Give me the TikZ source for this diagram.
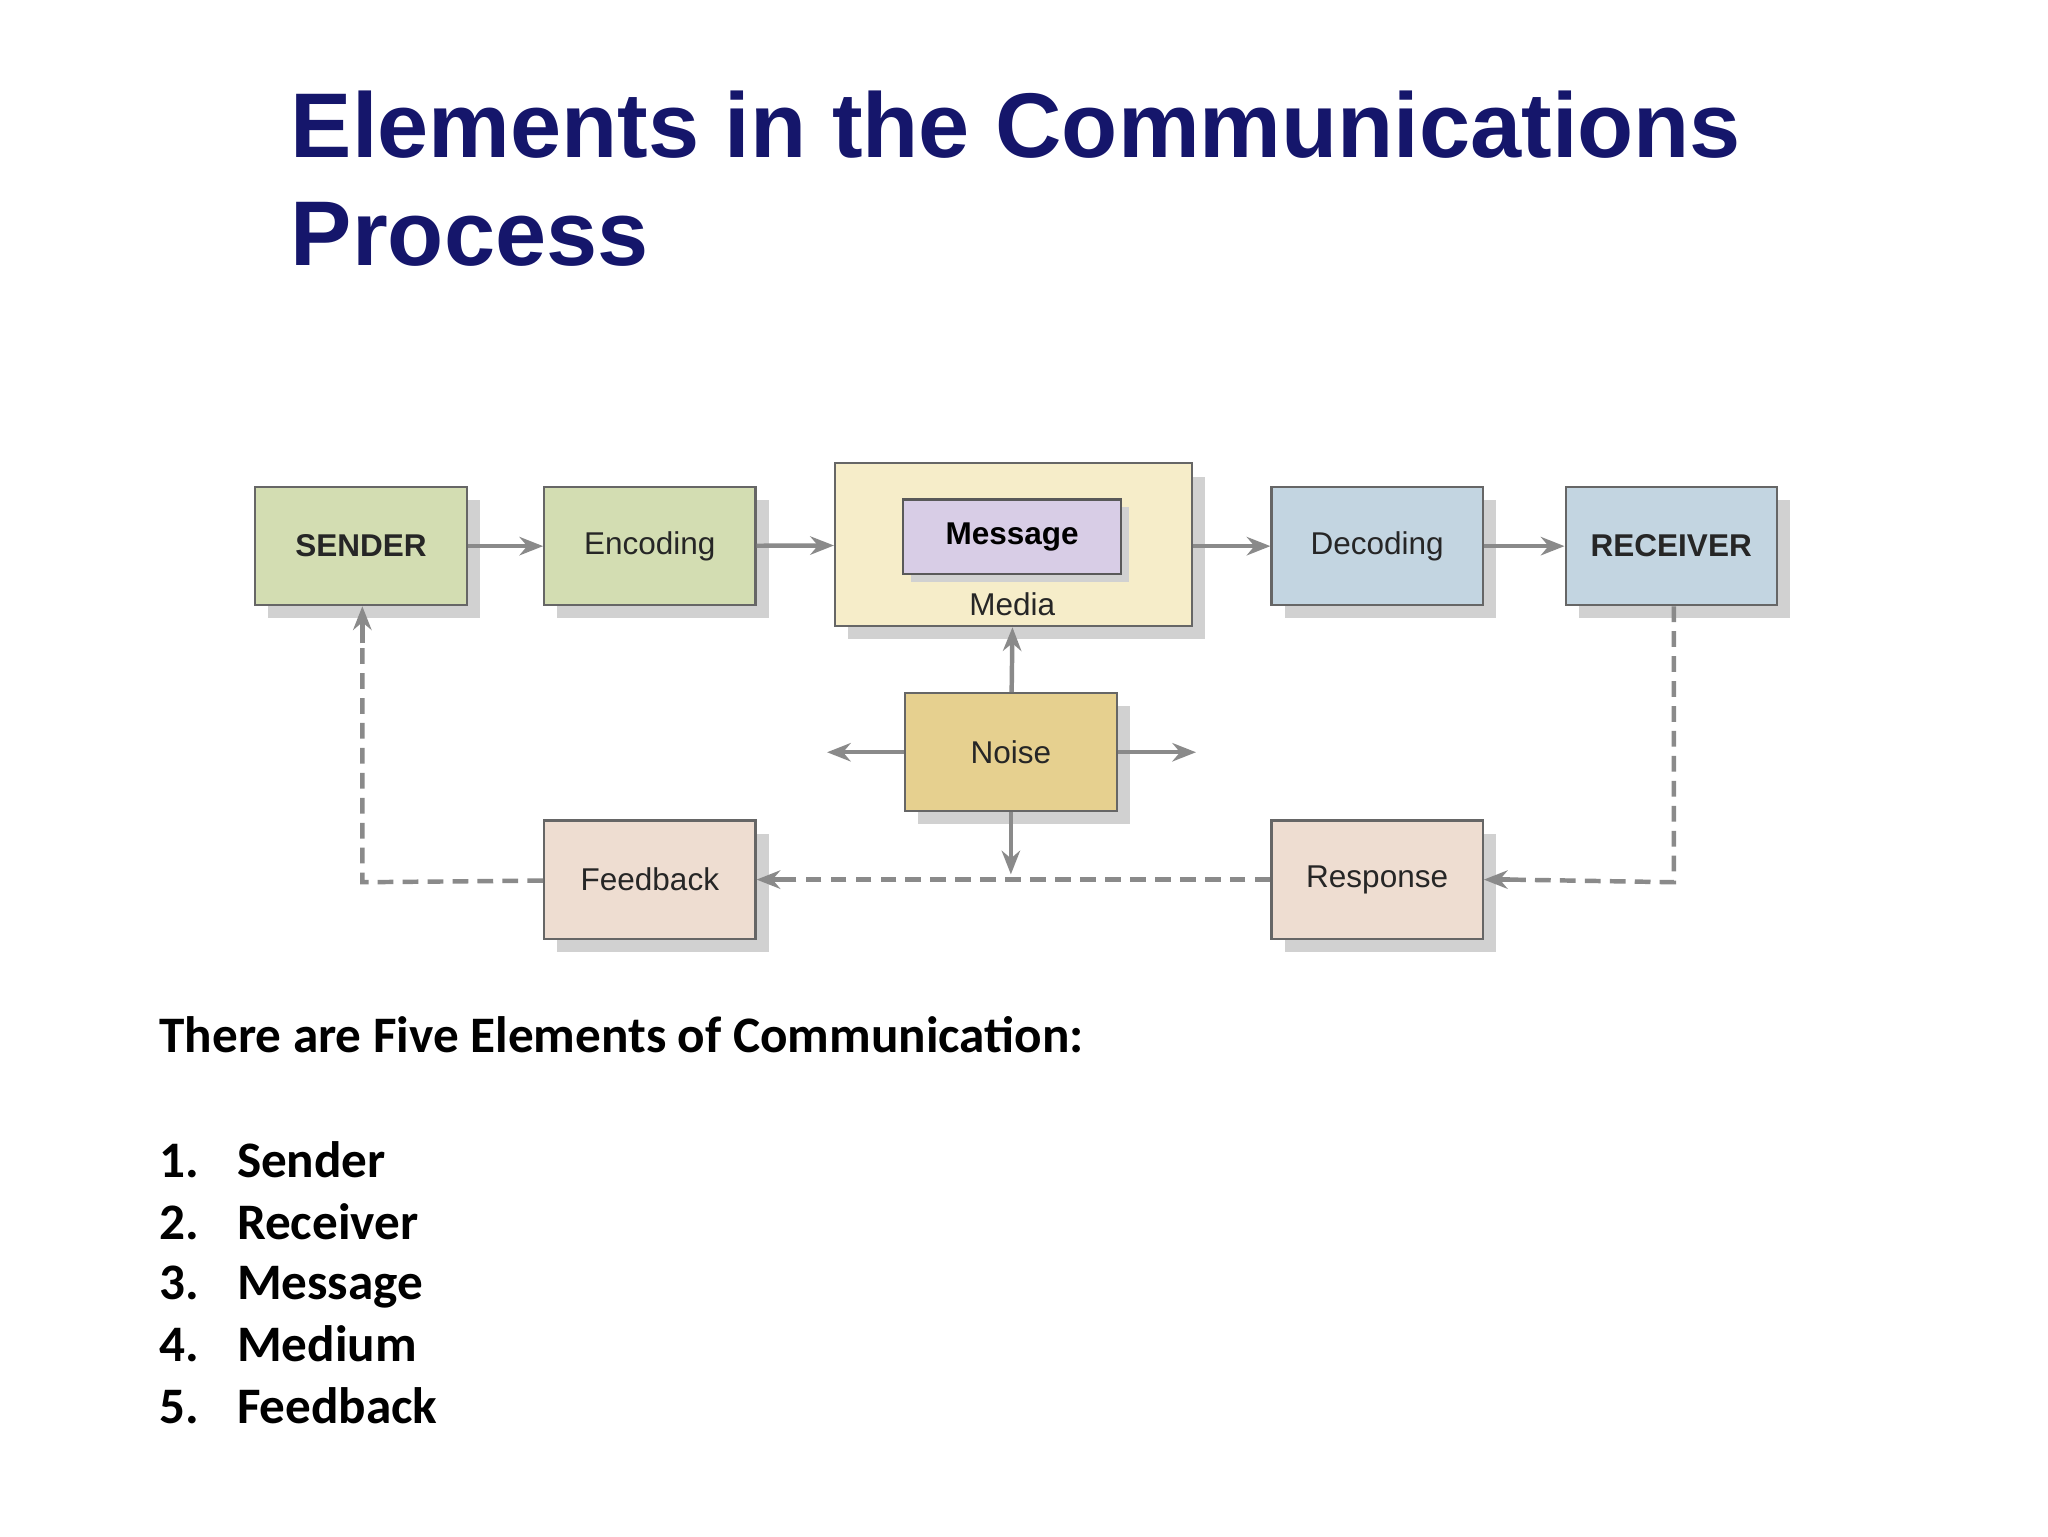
\documentclass[tikz,border=0pt]{standalone}
\usepackage{fontspec}
\setmainfont{Liberation Sans}
\newfontfamily\carl{Carlito}
\usetikzlibrary{arrows.meta}
\definecolor{navy}{HTML}{15166B}
\definecolor{gr}{HTML}{D3DDB2}
\definecolor{bl}{HTML}{C3D5E1}
\definecolor{me}{HTML}{F6EDC9}
\definecolor{ms}{HTML}{D8CDE6}
\definecolor{no}{HTML}{E6D08F}
\definecolor{pk}{HTML}{EEDDD1}
\definecolor{ar}{HTML}{8A8A8A}
\begin{document}
\begin{tikzpicture}[x=1pt,y=-1pt,
 box/.style={draw=gray!80!black,line width=1.6pt,minimum width=161pt,minimum height=90pt,
   font=\fontsize{24}{28}\selectfont,text=black!85,inner sep=0pt,
   preaction={fill=black!18,draw=none,transform canvas={shift={(10pt,-10pt)}}}},
 ln/.style={ar,line width=3.4pt,-{Stealth[length=18pt,width=14pt]}},
 dl/.style={ar,line width=3.4pt,dash pattern=on 12pt off 7pt}]
\useasboundingbox (0,0) rectangle (1560,1170);
\fill[white] (0,0) rectangle (1560,1170);
\node[anchor=base west,font=\fontsize{70}{78}\bfseries,text=navy] (t1) at (218,120) {Elements in the Communications};
\node[anchor=base west,font=\fontsize{70}{78}\bfseries,text=navy] (t2) at (218,202) {Process};
\node[box,fill=gr,font=\fontsize{24}{28}\bfseries] (s) at (275,416) {SENDER};
\node[box,fill=gr] (e) at (495,416) {Encoding};
\node[box,fill=me,minimum width=272pt,minimum height=124pt] (m) at (772,415) {};
\node[draw=gray!70!black,line width=1.6pt,fill=ms,minimum width=166pt,minimum height=57pt,font=\fontsize{24}{28}\bfseries,inner sep=0pt,
 preaction={fill=black!18,draw=none,transform canvas={shift={(6pt,-6pt)}}}] (msg) at (771,409) {Message};
\node[font=\fontsize{24}{28}\selectfont,text=black!85] (med) at (771,460) {Media};
\node[box,fill=bl] (d) at (1049,416) {Decoding};
\node[box,fill=bl,font=\fontsize{24}{28}\bfseries] (r) at (1273,416) {RECEIVER};
\node[box,fill=no] (n) at (770,573) {Noise};
\node[box,fill=pk] (f) at (495,670) {Feedback};
\node[box,fill=pk] (rs) at (1049,670) {Response};
\coordinate (nl) at (630,573); \coordinate (nr) at (911,573); \coordinate (nd) at (770,666);
\coordinate (c1) at (1275,672); \coordinate (c2) at (276,672);
\draw[ln] (s) -- (e); \draw[ln] (e) -- (m); \draw[ln] (m.east|-d) -- (d); \draw[ln] (d) -- (r);
\draw[ln] (n) -- (m); \draw[ln] (n) -- (nl); \draw[ln] (n) -- (nr); \draw[ln] (n) -- (nd);
\draw[dl] (r.south-|c1) -- (c1) -- ([xshift=20pt]rs.east);
\draw[ln] ([xshift=20pt]rs.east) -- (rs.east);
\draw[dl] (rs.west) -- ([xshift=25pt]f.east);
\draw[ln] ([xshift=25pt]f.east) -- (f.east);
\draw[dl] (f) -- (c2) -- (276,490);
\draw[ln] (276,490) -- (s.south-|c2);
\begin{scope}[font=\carl\fontsize{39}{44}\bfseries]
\node[anchor=base west] (h) at (118,802) {There are Five Elements of Communication:};
\foreach \i/\t/\y in {1/Sender/897,2/Receiver/944,3/Message/990,4/Medium/1037,5/Feedback/1084}{
 \node[anchor=base west] (n\i) at (118,\y) {\i.};
 \node[anchor=base west] (l\i) at (177,\y) {\t};}
\end{scope}
\end{tikzpicture}
\end{document}
